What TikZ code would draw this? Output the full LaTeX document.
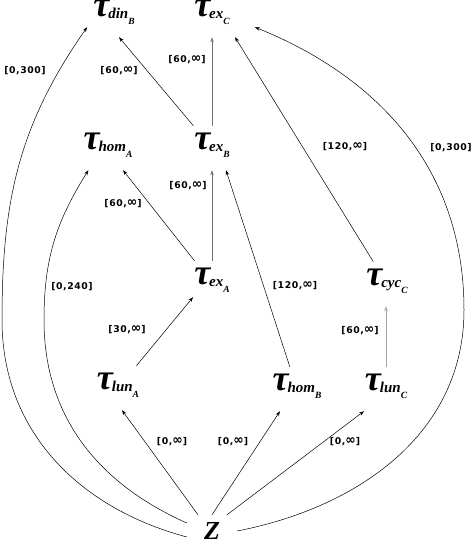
\documentclass[tikz,border=0pt]{standalone}
\usepackage{fontspec}
\setmainfont{Liberation Serif}
\newfontfamily\lblfont{DejaVu Sans}[LetterSpace=6]
\usetikzlibrary{arrows.meta}
\newcommand\tn[2]{{\bfseries\itshape\fontsize{36}{36}\selectfont τ\kern-1pt\raisebox{-2pt}{\fontsize{15}{15}\selectfont #1\raisebox{-6pt}{\fontsize{9.5}{9.5}\selectfont #2}}}}
\newcommand\inff{\scalebox{1.35}[1.45]{∞}}
\begin{document}
\begin{tikzpicture}[x=1pt,y=1pt,
  tau/.style={anchor=base, inner sep=4pt, text height=20pt, text depth=16pt},
  lbl/.style={font=\lblfont\bfseries\fontsize{9.3}{9.3}\selectfont, inner sep=1pt},
  arr/.style={-{Stealth[length=5pt,width=3.5pt]}, line width=0.5pt},
  garr/.style={arr, draw=black!55, line width=0.8pt}]
\useasboundingbox (0,0) rectangle (474,541);
\node[tau] (dinB) at (114,524) {\tn{din}{B}};
\node[tau] (exC) at (212,524) {\tn{ex}{C}};
\node[tau] (homA) at (108,391) {\tn{hom}{A}};
\node[tau] (exB) at (212,391) {\tn{ex}{B}};
\node[tau] (exA) at (212,256) {\tn{ex}{A}};
\node[tau] (cycC) at (387,255) {\tn{cyc}{C}};
\node[tau] (lunA) at (118,151) {\tn{lun}{A}};
\node[tau] (homB) at (297,150) {\tn{hom}{B}};
\node[tau] (lunC) at (386,150) {\tn{lun}{C}};
\node[minimum width=50pt, minimum height=32pt, inner sep=0pt,
  font=\bfseries\itshape\fontsize{26}{26}\selectfont] (Z) at (212,10) {Z};
\coordinate (c1) at (2,221);
\coordinate (c2) at (44,221);
\coordinate (c3) at (464,231);
% straight arrows
\draw[arr] (exB) -- ([xshift=5pt]dinB.south);
\draw[garr] (exB.north) -- (exC.south);
\draw[arr] (cycC) -- ([xshift=23pt]exC.south);
\draw[arr] (exA) -- ([xshift=15pt]homA.south);
\draw[garr] (exA.north) -- (exB.south);
\draw[arr] (homB) -- ([xshift=14pt]exB.south);
\draw[arr] (lunA) -- ([shift={(3pt,8pt)}]exA.south west);
\draw[garr, draw=black!35] (lunC.north) -- (lunC.north |- cycC.south);
\draw[arr] ([xshift=-14pt]Z.north) -- ([xshift=4pt]lunA.south);
\draw[arr] (Z.north) -- ([xshift=-17pt]homB.south);
\draw[arr] ([xshift=15pt]Z.north) -- ([xshift=-22pt]lunC.south);
% curves
\draw[arr] ([yshift=-6pt]Z.west) to[out=165,in=270] (c1) to[out=90,in=235] ([shift={(-2pt,10pt)}]dinB.south west);
\draw[arr] ([yshift=8pt]Z.west) to[out=156,in=270] (c2) to[out=90,in=238] ([xshift=9pt]homA.south west);
\draw[arr] (Z.east) to[out=11,in=270] (c3) to[out=90,in=338] ([shift={(21pt,10pt)}]exC.south east);
% labels
\node[lbl] (l1) at (25,470) {[0,300]};
\node[lbl] (l2) at (119,470) {[60,\inff]};
\node[lbl] (l3) at (187,481) {[60,\inff]};
\node[lbl] (l4) at (345,394) {[120,\inff]};
\node[lbl] (l5) at (451,393) {[0,300]};
\node[lbl] (l6) at (188,355) {[60,\inff]};
\node[lbl] (l7) at (123,337) {[60,\inff]};
\node[lbl] (l8) at (72,254) {[0,240]};
\node[lbl] (l9) at (295,255) {[120,\inff]};
\node[lbl] (l10) at (127,211) {[30,\inff]};
\node[lbl] (l11) at (360,210) {[60,\inff]};
\node[lbl] (l12) at (172,99) {[0,\inff]};
\node[lbl] (l13) at (233,99) {[0,\inff]};
\node[lbl] (l14) at (345,99) {[0,\inff]};
\end{tikzpicture}
\end{document}
